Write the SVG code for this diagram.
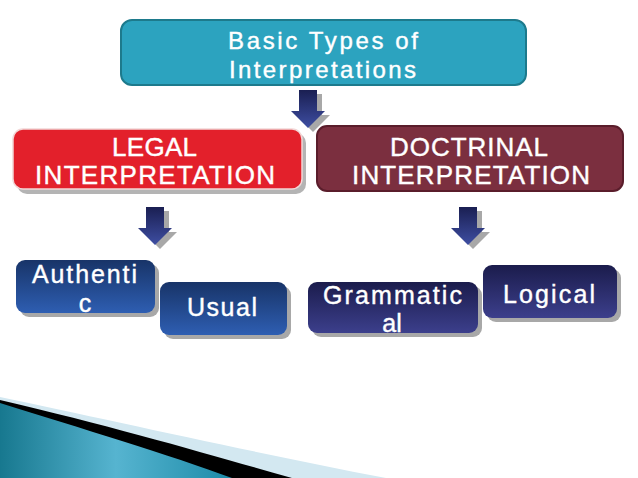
<svg xmlns="http://www.w3.org/2000/svg" width="638" height="478" viewBox="0 0 638 478">
<defs>
<style>
.t{font-family:"Liberation Sans",Arial,sans-serif;fill:#ffffff;stroke:#ffffff;stroke-width:0.4px;}
.big{font-size:26px;}
.top{font-size:24px;}
.sm{font-size:25px;}
.shadow{fill:#a8a8a8;}
</style>
<linearGradient id="gBlue" x1="0" y1="0" x2="0" y2="1">
<stop offset="0" stop-color="#183468"/>
<stop offset="1" stop-color="#2e5eb2"/>
</linearGradient>
<linearGradient id="gNavy" x1="0" y1="0" x2="0" y2="1">
<stop offset="0" stop-color="#1b1c4c"/>
<stop offset="1" stop-color="#3c3f8c"/>
</linearGradient>
<linearGradient id="gArrow" x1="0" y1="0" x2="0" y2="1">
<stop offset="0" stop-color="#1a1f52"/>
<stop offset="1" stop-color="#3e4ea2"/>
</linearGradient>
<linearGradient id="gTeal" x1="0" y1="0" x2="1" y2="0">
<stop offset="0" stop-color="#17788f"/>
<stop offset="0.5" stop-color="#56b4d0"/>
<stop offset="1" stop-color="#1d8ba8"/>
</linearGradient>
<path id="arrow" d="M-9,0 H9 V21 H17 L0,38 L-17,21 H-9 Z"/>
</defs>
<rect width="638" height="478" fill="#ffffff"/>

<g id="decoration">
<path d="M0,397 C110,420 250,452 386,478 L0,478 Z" fill="#d3e8f1"/>
<path d="M0,400 C120,428 210,455 292,478 L0,478 Z" fill="#000000"/>
<path d="M0,403 C80,428 170,455 232,478 L0,478 Z" fill="url(#gTeal)"/>
</g>

<g id="connectors">
<use href="#arrow" x="313" y="94" class="shadow"/>
<use href="#arrow" x="308" y="90" fill="url(#gArrow)"/>
<use href="#arrow" x="160" y="211" class="shadow"/>
<use href="#arrow" x="155" y="207" fill="url(#gArrow)"/>
<use href="#arrow" x="473" y="211" class="shadow"/>
<use href="#arrow" x="468" y="207" fill="url(#gArrow)"/>
</g>

<g id="top">
<rect x="121" y="20" width="405" height="65" rx="11" fill="#2ca3bf" stroke="#1d7a8c" stroke-width="2"/>
<text class="t top" x="228" y="49" textLength="190" lengthAdjust="spacing">Basic Types of</text>
<text class="t top" x="229" y="78" textLength="187" lengthAdjust="spacing">Interpretations</text>
</g>

<g id="legal">
<rect x="17" y="133" width="289" height="61" rx="10" fill="#b4b4b4"/>
<rect x="13" y="129" width="289" height="60" rx="10" fill="#e3202b" stroke="#f2d6d6" stroke-width="1.5"/>
<text class="t big" x="112" y="156" textLength="85" lengthAdjust="spacing">LEGAL</text>
<text class="t big" x="35" y="184" textLength="240" lengthAdjust="spacing">INTERPRETATION</text>
</g>

<g id="doctrinal">
<rect x="317" y="126" width="306" height="65" rx="10" fill="#7b2f3f" stroke="#5a1d2b" stroke-width="2"/>
<text class="t big" x="390" y="156" textLength="158" lengthAdjust="spacing">DOCTRINAL</text>
<text class="t big" x="352" y="184" textLength="238" lengthAdjust="spacing">INTERPRETATION</text>
</g>

<g id="authentic">
<rect x="20" y="264" width="139" height="53" rx="9" class="shadow"/>
<rect x="16" y="260" width="139" height="53" rx="9" fill="url(#gBlue)"/>
<text class="t sm" x="32" y="283" textLength="105" lengthAdjust="spacing">Authenti</text>
<text class="t sm" x="85" y="312" text-anchor="middle">c</text>
</g>

<g id="usual">
<rect x="164" y="286" width="127" height="53" rx="9" class="shadow"/>
<rect x="160" y="282" width="127" height="53" rx="9" fill="url(#gBlue)"/>
<text class="t sm" x="187" y="316" textLength="70" lengthAdjust="spacing">Usual</text>
</g>

<g id="grammatical">
<rect x="312" y="286" width="170" height="51" rx="9" class="shadow"/>
<rect x="308" y="282" width="170" height="51" rx="9" fill="url(#gNavy)"/>
<text class="t sm" x="323" y="304" textLength="139" lengthAdjust="spacing">Grammatic</text>
<text class="t sm" x="392" y="332" text-anchor="middle">al</text>
</g>

<g id="logical">
<rect x="487" y="269" width="134" height="53" rx="9" class="shadow"/>
<rect x="483" y="265" width="134" height="53" rx="9" fill="url(#gNavy)"/>
<text class="t sm" x="503" y="303" textLength="92" lengthAdjust="spacing">Logical</text>
</g>
</svg>
